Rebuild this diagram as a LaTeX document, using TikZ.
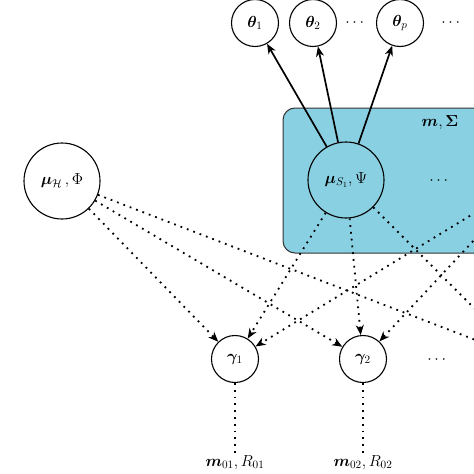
\documentclass[tikz,border=0pt]{standalone}
\usepackage{fix-cm}
\usepackage{amsmath,amssymb,bm}
\usetikzlibrary{arrows.meta}
\definecolor{boxblue}{RGB}{137,208,226}
\begin{document}
\begin{tikzpicture}[x=1pt,y=-1pt,
  font=\fontsize{16}{19}\selectfont,
  circ/.style={draw, circle, line width=1.1pt, inner sep=0pt, fill=white},
  smallc/.style={circ, minimum size=47pt},
  bigc/.style={circ, minimum size=76pt},
  plain/.style={inner sep=1pt},
  dotarrow/.style={line width=1.8pt, dash pattern=on 1.8pt off 5pt,
     -{Stealth[length=10pt,width=8pt,inset=3pt]}},
  dotline/.style={line width=1.8pt, dash pattern=on 1.8pt off 5pt},
  solidarrow/.style={line width=1.7pt, -{Stealth[length=10pt,width=8pt,inset=3pt]}}
]
\useasboundingbox (0,0) rectangle (474,474);
\clip (0,0) rectangle (474,474);
\fill[white] (0,0) rectangle (474,474);

% plate
\draw[fill=boxblue, draw=black!80, line width=1pt, rounded corners=12pt] (283,108) rectangle (600,253);

% top parameters
\node[smallc] (t1) at (255,23) {$\bm{\theta}_1$};
\node[smallc] (t2) at (313,23) {$\bm{\theta}_2$};
\node[smallc] (tp) at (400,23) {$\bm{\theta}_p$};
\node[plain] (td1) at (356,23) {$\cdots$};
\node[plain] (td2) at (452,23) {$\cdots$};

% hyper nodes
\node[bigc] (mh) at (62,181) {$\bm{\mu}_{\mathcal{H}}\,, \Phi$};
\node[bigc, fill=boxblue] (ms1) at (346,180) {$\bm{\mu}_{S_1}, \Psi$};
\node[bigc, fill=boxblue] (ms2) at (532,178) {};
\node[plain] (md) at (440,181) {$\cdots$};
\node[plain] (msig) at (440,123) {$\bm{m}, \bm{\Sigma}$};

% gamma nodes
\node[smallc] (g1) at (235,359) {$\bm{\gamma}_1$};
\node[smallc] (g2) at (363,359) {$\bm{\gamma}_2$};
\node[smallc] (g3) at (525,359) {};
\node[plain] (gd) at (438,360) {$\cdots$};

% observations
\node[inner sep=2pt, anchor=north] (l1) at (235,453) {$\bm{m}_{01}, R_{01}$};
\node[inner sep=2pt, anchor=north] (l2) at (363,453) {$\bm{m}_{02}, R_{02}$};

% arrows to thetas
\draw[solidarrow] (ms1) -- (t1);
\draw[solidarrow] (ms1) -- (t2);
\draw[solidarrow] (ms1) -- (tp);

% dotted arrows
\draw[dotarrow] (mh) -- (g1);
\draw[dotarrow] (mh) -- (g2);
\draw[dotarrow] (mh) -- (g3);
\draw[dotarrow] (ms1) -- (g1);
\draw[dotarrow] (ms1) -- (g2);
\draw[dotarrow] (ms1) -- (g3);
\draw[dotarrow] (ms2) -- (g1);
\draw[dotarrow] (ms2) -- (g2);
\draw[dotarrow] (ms2) -- (g3);

\draw[dotline] (g1) -- (l1);
\draw[dotline] (g2) -- (l2);
\end{tikzpicture}
\end{document}
